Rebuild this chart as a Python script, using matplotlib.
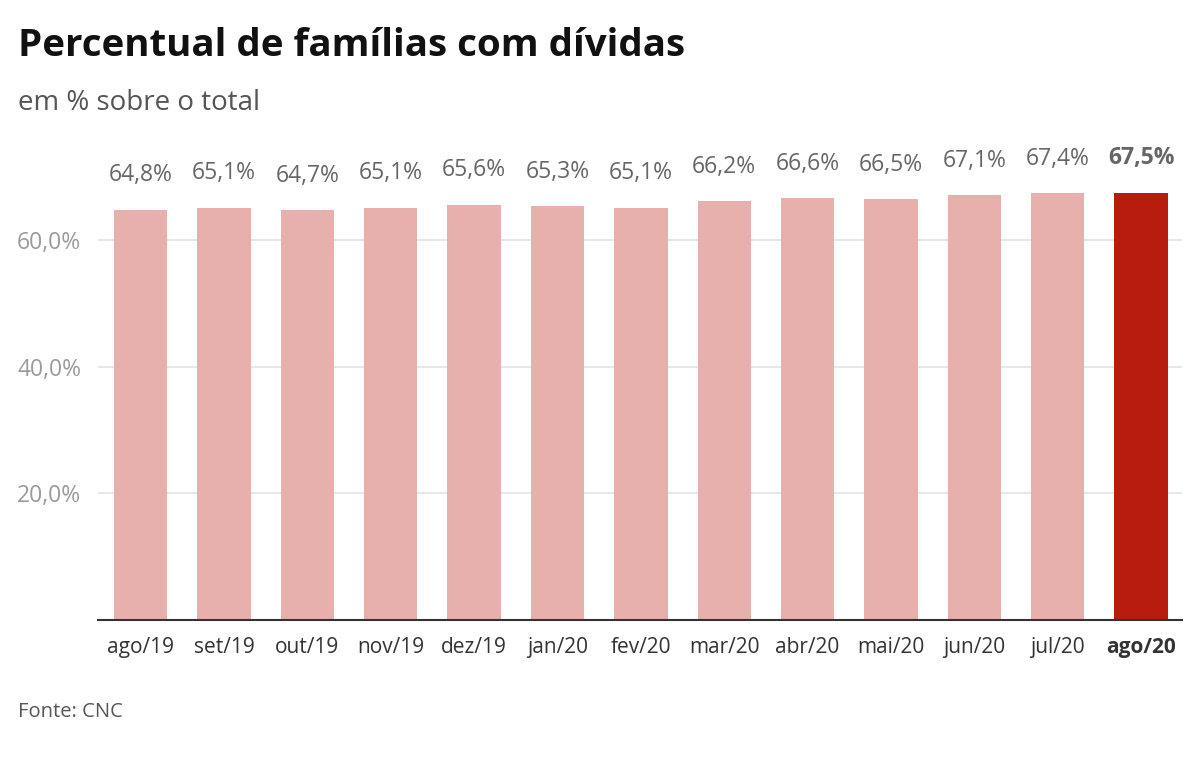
import matplotlib.pyplot as plt

plt.rcParams['font.family'] = ['Open Sans', 'DejaVu Sans']

months = ['ago/19', 'set/19', 'out/19', 'nov/19', 'dez/19', 'jan/20', 'fev/20',
          'mar/20', 'abr/20', 'mai/20', 'jun/20', 'jul/20', 'ago/20']
values = [64.8, 65.1, 64.7, 65.1, 65.6, 65.3, 65.1, 66.2, 66.6, 66.5, 67.1, 67.4, 67.5]
yticks = [20, 40, 60]

light = '#e8b0ac'
dark = '#b81c0f'

fig = plt.figure(figsize=(12, 7.57), dpi=100)
ax = fig.add_axes([98 / 1200, 1 - 620 / 757, (1182 - 98) / 1200, (620 - 164) / 757])

x = list(range(len(months)))
colors = [light] * (len(months) - 1) + [dark]
ax.bar(x, values, width=0.64, color=colors, zorder=2)

# value labels over the bars, last one in bold
for i, v in zip(x, values):
    last = i == len(x) - 1
    ax.annotate(f'{v:.1f}%'.replace('.', ','), (i, v), xytext=(0, 16),
                textcoords='offset points', ha='center', va='bottom',
                fontsize=16.5, color='#666666',
                fontweight='bold' if last else 'normal')

ax.set_xlim(-0.51, len(months) - 0.51)
ax.set_ylim(0, 72)
ax.set_yticks(yticks)
ax.set_yticklabels([f'{t:.1f}%'.replace('.', ',') for t in yticks])
ax.set_xticks(x)
ax.set_xticklabels(months)
ax.get_xticklabels()[-1].set_fontweight('bold')

ax.grid(axis='y', color='#e3e3e3', linewidth=1.2, zorder=0)
for s in ['top', 'right', 'left']:
    ax.spines[s].set_visible(False)
ax.spines['bottom'].set_color('#333333')
ax.spines['bottom'].set_linewidth(1.5)
ax.tick_params(axis='y', length=0, pad=12, labelsize=16.5, labelcolor='#9a9a9a')
ax.tick_params(axis='x', length=0, pad=12, labelsize=15, labelcolor='#333333')

fig.text(18 / 1200, 1 - 46 / 757, 'Percentual de famílias com dívidas',
         fontsize=27.7, fontweight='bold', color='#111111', va='center')
fig.text(18 / 1200, 1 - 103 / 757, 'em % sobre o total',
         fontsize=20, color='#555555', va='center')
fig.text(18 / 1200, 1 - 712 / 757, 'Fonte: CNC',
         fontsize=14.5, color='#555555', va='center')

fig.savefig('out.png', dpi=100)
